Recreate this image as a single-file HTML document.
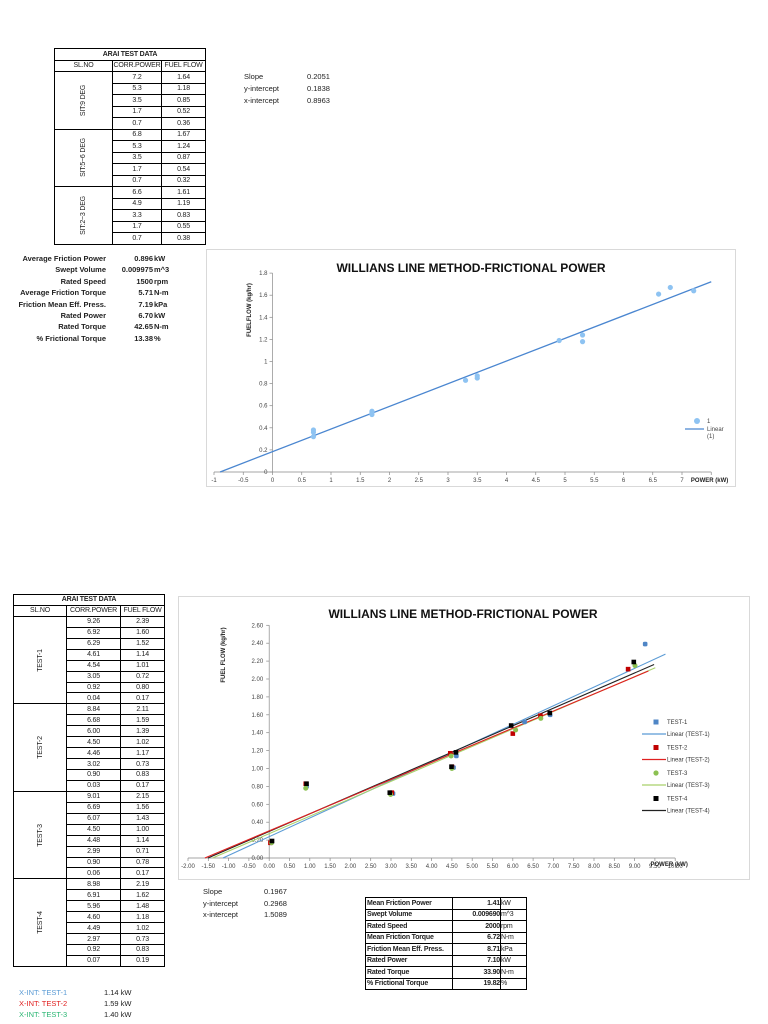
<!DOCTYPE html>
<html><head><meta charset="utf-8"><style>
body{margin:0;width:768px;height:1024px;background:#fff;position:relative;overflow:hidden;font-family:"Liberation Sans",sans-serif;color:#222}
.a{position:absolute;font-size:7.5px;white-space:nowrap}
table.d{position:absolute;border-collapse:collapse;border:1.5px solid #000;font-size:7px;table-layout:fixed;letter-spacing:-0.2px}
table.d td{border:1px solid #000;padding:0;text-align:center;line-height:1;white-space:nowrap;overflow:hidden}
.rot{transform:rotate(-90deg);display:inline-block;white-space:nowrap}
.b{font-weight:bold}
.box{position:absolute;border:1px solid #d9d9d9;background:#fff}
</style></head><body>

<div id="t1holder"></div>
<div id="t2holder"></div>

<div class="a" style="left:244px;top:72px">Slope</div>
<div class="a" style="left:307px;top:72px">0.2051</div>
<div class="a" style="left:244px;top:84px">y-intercept</div>
<div class="a" style="left:307px;top:84px">0.1838</div>
<div class="a" style="left:244px;top:96px">x-intercept</div>
<div class="a" style="left:307px;top:96px">0.8963</div>

<div id="fric"></div>

<div class="box" style="left:206px;top:249px;width:528px;height:236px">
<svg id="c1" width="528" height="236"></svg></div>

<div class="box" style="left:178px;top:596px;width:570px;height:282px">
<svg id="c2" width="570" height="282"></svg></div>

<div class="a" style="left:203px;top:887px">Slope</div>
<div class="a" style="left:264px;top:887px">0.1967</div>
<div class="a" style="left:203px;top:899px">y-intercept</div>
<div class="a" style="left:264px;top:899px">0.2968</div>
<div class="a" style="left:203px;top:910px">x-intercept</div>
<div class="a" style="left:264px;top:910px">1.5089</div>

<table class="d" style="left:365px;top:897px;width:162px;border-width:1.5px">
<colgroup><col style="width:87px"><col style="width:48px"><col></colgroup>
<tbody id="mft"></tbody></table>

<div class="a" style="left:19px;top:988px;color:#5b9bd5">X-INT: TEST-1</div>
<div class="a" style="left:104px;top:988px">1.14 kW</div>
<div class="a" style="left:19px;top:999px;color:#e02020">X-INT: TEST-2</div>
<div class="a" style="left:104px;top:999px">1.59 kW</div>
<div class="a" style="left:19px;top:1010px;color:#2bb673">X-INT: TEST-3</div>
<div class="a" style="left:104px;top:1010px">1.40 kW</div>

<script>
// ---- data ----
const topGroups=["SIT:9 DEG","SIT:5~6 DEG","SIT:2~3 DEG"];
const topPower=[7.2,5.3,3.5,1.7,0.7,6.8,5.3,3.5,1.7,0.7,6.6,4.9,3.3,1.7,0.7];
const topFlow=[1.64,1.18,0.85,0.52,0.36,1.67,1.24,0.87,0.54,0.32,1.61,1.19,0.83,0.55,0.38];
const botGroups=["TEST-1","TEST-2","TEST-3","TEST-4"];
const t1P=[9.26,6.92,6.29,4.61,4.54,3.05,0.92,0.04];
const t1F=[2.39,1.60,1.52,1.14,1.01,0.72,0.80,0.17];
const t2P=[8.84,6.68,6.00,4.50,4.46,3.02,0.90,0.03];
const t2F=[2.11,1.59,1.39,1.02,1.17,0.73,0.83,0.17];
const t3P=[9.01,6.69,6.07,4.50,4.48,2.99,0.90,0.06];
const t3F=[2.15,1.56,1.43,1.00,1.14,0.71,0.78,0.17];
const t4P=[8.98,6.91,5.96,4.60,4.49,2.97,0.92,0.07];
const t4F=[2.19,1.62,1.48,1.18,1.02,0.73,0.83,0.19];
const topXTicks=[-1,-0.5,0,0.5,1,1.5,2,2.5,3,3.5,4,4.5,5,5.5,6,6.5,7,7.5];
const topYTicks=[0,0.2,0.4,0.6,0.8,1,1.2,1.4,1.6,1.8];
const botXTicks=[-2,-1.5,-1,-0.5,0,0.5,1,1.5,2,2.5,3,3.5,4,4.5,5,5.5,6,6.5,7,7.5,8,8.5,9,9.5,10];
const botYTicks=[0,0.2,0.4,0.6,0.8,1,1.2,1.4,1.6,1.8,2,2.2,2.4,2.6];
const fricLabels=["Average Friction Power","Swept Volume","Rated Speed","Average Friction Torque","Friction Mean Eff. Press.","Rated Power","Rated Torque","% Frictional Torque"];
const fricValues=["0.896 kW","0.009975 m^3","1500 rpm","5.71 N-m","7.19 kPa","6.70 kW","42.65 N-m","13.38 %"];
const mfLabels=["Mean Friction Power","Swept Volume","Rated Speed","Mean Friction Torque","Friction Mean Eff. Press.","Rated Power","Rated Torque","% Frictional Torque"];
const mfValues=["1.41","0.009690","2000","6.72","8.71","7.10","33.90","19.82"];
const mfUnits=["kW","m^3","rpm","N-m","kPa","kW","N-m","%"];

const NS="http://www.w3.org/2000/svg";
function mk(parent,tag,attrs){const e=document.createElementNS(NS,tag);for(const k in attrs)e.setAttribute(k,attrs[k]);parent.appendChild(e);return e;}
function fit(xs,ys){const n=xs.length;let sx=0,sy=0,sxx=0,sxy=0;for(let i=0;i<n;i++){sx+=xs[i];sy+=ys[i];sxx+=xs[i]*xs[i];sxy+=xs[i]*ys[i];}const m=(n*sxy-sx*sy)/(n*sxx-sx*sx);return{m:m,b:(sy-m*sx)/n};}

// ---- tables ----
function buildTable(holder,left,top,w,cols,rowH,groups,P,F,per,dec){
  const t=document.createElement('table');t.className='d';
  
  
  t.style.left=left+'px';t.style.top=top+'px';t.style.width=w+'px';
  let h='<colgroup><col style="width:'+cols[0]+'px"><col style="width:'+cols[1]+'px"><col></colgroup>';
  h+='<tr style="height:'+rowH+'px"><td colspan="3" class="b">ARAI TEST DATA</td></tr>';
  h+='<tr style="height:'+rowH+'px"><td>SL.NO</td><td>CORR.POWER</td><td>FUEL FLOW</td></tr>';
  for(let i=0;i<P.length;i++){
    h+='<tr style="height:'+rowH+'px">';
    if(i%per===0)h+='<td rowspan="'+per+'"><span class="rot">'+groups[i/per]+'</span></td>';
    h+='<td>'+P[i].toFixed(dec[0])+'</td><td>'+F[i].toFixed(2)+'</td></tr>';
  }
  t.innerHTML=h;holder.appendChild(t);
}
buildTable(document.getElementById('t1holder'),54,48,152,[58,49],11.5,topGroups,topPower,topFlow,5,[1]);
buildTable(document.getElementById('t2holder'),13,594,152,[53,54],10.95,botGroups,t1P.concat(t2P,t3P,t4P),t1F.concat(t2F,t3F,t4F),8,[2]);

const fr=document.getElementById('fric');
for(let i=0;i<fricLabels.length;i++){
  const l=document.createElement('div');l.className='a b';
  
  
  l.style.right=(768-106)+'px';l.style.top=(254+i*11.4)+'px';l.style.textAlign='right';
  l.textContent=fricLabels[i];fr.appendChild(l);
  const v=document.createElement('div');v.className='a b';
  
  
  const parts=fricValues[i].split(' ');
  v.style.right=(768-153)+'px';v.style.top=(254+i*11.4)+'px';
  v.innerHTML=parts[0]+' <span style="position:absolute;left:100%;margin-left:1px">'+parts[1]+'</span>';
  fr.appendChild(v);
}
const mft=document.getElementById('mft');
for(let i=0;i<mfLabels.length;i++){
  const r=document.createElement('tr');r.style.height='11.5px';
  
  
  r.innerHTML='<td style="text-align:left;padding-left:1px" class="b">'+mfLabels[i]+'</td><td style="text-align:right" class="b">'+mfValues[i]+'</td><td style="text-align:left">'+mfUnits[i]+'</td>';
  mft.appendChild(r);
}

// ---- top chart ----
(function(){
  const s=document.getElementById('c1');
  const x0=7,xs=58.5,y0=222,ys=110.5;
  const X=v=>x0+(v+1)*xs, Y=v=>y0-v*ys;
  const t=mk(s,'text',{x:264,y:22,'font-size':12,'font-weight':'bold','text-anchor':'middle',fill:'#111'});
  t.textContent='WILLIANS LINE METHOD-FRICTIONAL POWER';
  
  
  const yl=mk(s,'text',{transform:'translate(44,60) rotate(-90)','font-size':6,'font-weight':'bold','text-anchor':'middle',fill:'#222'});
  yl.textContent='FUELFLOW (kg/hr)';
  
  
  mk(s,'line',{x1:X(0),x2:X(0),y1:Y(1.8),y2:Y(0),stroke:'#888','stroke-width':0.7});
  mk(s,'line',{x1:X(-1),x2:X(7.5),y1:Y(0),y2:Y(0),stroke:'#888','stroke-width':0.7});
  topYTicks.forEach(v=>{mk(s,'line',{x1:X(0)-3,x2:X(0),y1:Y(v),y2:Y(v),stroke:'#888','stroke-width':0.7});
    const e=mk(s,'text',{x:X(0)-5,y:Y(v)+2,'font-size':6,'text-anchor':'end',fill:'#444'});e.textContent=String(v);
    
    });
  topXTicks.forEach(v=>{mk(s,'line',{x1:X(v),x2:X(v),y1:Y(0),y2:Y(0)+3,stroke:'#888','stroke-width':0.7});
    const e=mk(s,'text',{x:X(v),y:Y(0)+10,'font-size':6,'text-anchor':'middle',fill:'#444'});e.textContent=v===7.5?'':String(v);
    
    });
  const xl=mk(s,'text',{x:X(7.5)+17,y:Y(0)+10,'font-size':6,'font-weight':'bold','text-anchor':'end',fill:'#222'});xl.textContent='POWER (kW)';
  
  
  const f=fit(topPower,topFlow);const xa=-f.b/f.m,xb=7.5;
  const ln=mk(s,'line',{x1:X(xa),y1:Y(0),x2:X(xb),y2:Y(f.m*xb+f.b),stroke:'#4a86d0','stroke-width':1.3});
  
  
  for(let i=0;i<topPower.length;i++){const c=mk(s,'circle',{cx:X(topPower[i]),cy:Y(topFlow[i]),r:2.6,fill:'#8ec3f2'});
    
    }
  const lg=mk(s,'g',{});
  
  
  mk(lg,'circle',{cx:490,cy:171,r:3,fill:'#8ec3f2'});
  let e=mk(lg,'text',{x:500,y:173,'font-size':6,fill:'#444'});e.textContent='1';
  mk(lg,'line',{x1:478,x2:497,y1:179,y2:179,stroke:'#4a86d0','stroke-width':1.2});
  e=mk(lg,'text',{x:500,y:181,'font-size':6,fill:'#444'});e.textContent='Linear';
  e=mk(lg,'text',{x:500,y:188,'font-size':6,fill:'#444'});e.textContent='(1)';
})();

// ---- bottom chart ----
(function(){
  const s=document.getElementById('c2');
  const x0=9,xs=40.6,y0=261,ys=89.5;
  const X=v=>x0+(v+2)*xs, Y=v=>y0-v*ys;
  const t=mk(s,'text',{x:284,y:21,'font-size':12,'font-weight':'bold','text-anchor':'middle',fill:'#111'});
  t.textContent='WILLIANS LINE METHOD-FRICTIONAL POWER';
  
  
  const yl=mk(s,'text',{transform:'translate(46,58) rotate(-90)','font-size':6,'font-weight':'bold','text-anchor':'middle',fill:'#222'});
  yl.textContent='FUEL FLOW (kg/hr)';
  
  
  mk(s,'line',{x1:X(0),x2:X(0),y1:Y(2.6),y2:Y(0),stroke:'#888','stroke-width':0.7});
  mk(s,'line',{x1:X(-2),x2:X(10),y1:Y(0),y2:Y(0),stroke:'#888','stroke-width':0.7});
  botYTicks.forEach(v=>{mk(s,'line',{x1:X(0)-3,x2:X(0),y1:Y(v),y2:Y(v),stroke:'#888','stroke-width':0.7});
    const e=mk(s,'text',{x:X(0)-6,y:Y(v)+2,'font-size':6,'text-anchor':'end',fill:'#444'});e.textContent=v.toFixed(2);
    
    });
  botXTicks.forEach(v=>{mk(s,'line',{x1:X(v),x2:X(v),y1:Y(0),y2:Y(0)+3,stroke:'#888','stroke-width':0.7});
    const e=mk(s,'text',{x:X(v),y:Y(0)+10,'font-size':6,'text-anchor':'middle',fill:'#444'});e.textContent=v.toFixed(2);
    
    });
  const xl=mk(s,'text',{x:X(10)-6,y:Y(0)+8,'font-size':6,'font-weight':'bold','text-anchor':'middle',fill:'#222'});xl.textContent='POWER (kW)';
  
  
  const series=[[t1P,t1F,'#4f86c6','#5b9bd5','TEST-1'],[t2P,t2F,'#c00000','#e02020','TEST-2'],[t3P,t3F,'#8cc152','#a9d16b','TEST-3'],[t4P,t4F,'#000','#222','TEST-4']];
  const order=[0,3,2,1];
  order.forEach(k=>{const sr=series[k];
    const f=fit(sr[0],sr[1]);const xa=-f.b/f.m,xb=Math.max(...sr[0])+0.5;
    const ln=mk(s,'line',{x1:X(xa),y1:Y(0),x2:X(xb),y2:Y(f.m*xb+f.b),stroke:sr[3],'stroke-width':1.1});
    
    
  });
  series.forEach((sr,k)=>{
    for(let i=0;i<sr[0].length;i++){
      let m;
      if(k===2)m=mk(s,'circle',{cx:X(sr[0][i]),cy:Y(sr[1][i]),r:2.5,fill:sr[2]});
      else m=mk(s,'rect',{x:X(sr[0][i])-2.3,y:Y(sr[1][i])-2.3,width:4.6,height:4.6,rx:k===0?1.5:0,fill:sr[2]});
      
      
    }
    const ly=125+k*25.5;
    const g=mk(s,'g',{});
    
    
    if(k===2)mk(g,'circle',{cx:477,cy:ly,r:2.6,fill:sr[2]});else mk(g,'rect',{x:474.5,y:ly-2.5,width:5,height:5,fill:sr[2]});
    let e=mk(g,'text',{x:488,y:ly+2,'font-size':6,fill:'#333'});e.textContent=sr[4];
    mk(g,'line',{x1:463,x2:487,y1:ly+12,y2:ly+12,stroke:sr[3],'stroke-width':1.3});
    e=mk(g,'text',{x:488,y:ly+14,'font-size':6,fill:'#333'});e.textContent='Linear ('+sr[4]+')';
  });
})();
</script>
</body></html>
